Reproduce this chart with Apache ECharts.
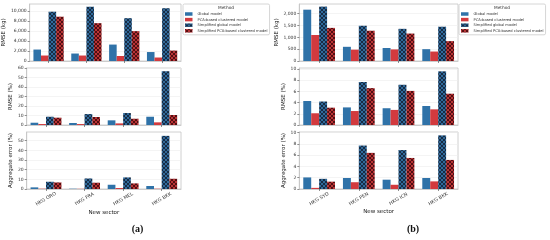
<!DOCTYPE html>
<html><head><meta charset="utf-8">
<script src="https://cdn.jsdelivr.net/npm/echarts@6.0.0/dist/echarts.min.js"></script>
<style>html,body{margin:0;padding:0;background:#fff}#c{width:550px;height:240px}</style>
</head><body><div id="c"></div>
<script>
// ---------- DATA ----------
const seriesNames = ['Global model', 'PCA-based clustered model', 'Simplified global model', 'Simplified PCA-based clustered model'];
const categoriesA = ['HKG ORO', 'HKG FRA', 'HKG MEL', 'HKG BKK'];
const categoriesB = ['HKG SYD', 'HKG PEN', 'HKG ICN', 'HKG BKK'];

// Panel (a) RMSE (kg)
const aKgGlobal  = [2300, 1500, 3300, 1800];
const aKgPca     = [1100, 1100, 1000, 700];
const aKgSGlobal = [9900, 10900, 8600, 10600];
const aKgSPca    = [8900, 7600, 6000, 2100];
// Panel (a) RMSE (%)
const aPctGlobal  = [2.4, 2.1, 4.9, 8.7];
const aPctPca     = [1.0, 1.0, 1.7, 2.8];
const aPctSGlobal = [8.7, 11.5, 12.6, 56.6];
const aPctSPca    = [7.7, 8.4, 6.6, 10.5];
// Panel (a) Aggregate error (%)
const aAggGlobal  = [1.7, 0.3, 4.4, 3.1];
const aAggPca     = [0.3, 0.2, 1.0, 0.3];
const aAggSGlobal = [7.5, 10.9, 12.0, 55.0];
const aAggSPca    = [6.8, 6.5, 5.8, 10.6];

// Panel (b) RMSE (kg)
const bKgGlobal  = [2170, 600, 550, 500];
const bKgPca     = [1100, 480, 490, 400];
const bKgSGlobal = [2300, 1490, 1360, 1450];
const bKgSPca    = [1400, 1280, 1160, 840];
// Panel (b) RMSE (%)
const bPctGlobal  = [4.3, 3.15, 3.0, 3.4];
const bPctPca     = [2.1, 2.5, 2.7, 2.8];
const bPctSGlobal = [4.2, 7.7, 7.2, 9.6];
const bPctSPca    = [3.1, 6.6, 6.1, 5.6];
// Panel (b) Aggregate error (%)
const bAggGlobal  = [2.05, 1.95, 1.65, 1.95];
const bAggPca     = [0.2, 1.2, 0.75, 1.35];
const bAggSGlobal = [1.8, 7.7, 6.9, 9.5];
const bAggSPca    = [1.3, 6.4, 5.5, 5.15];

// Tick labels
const ticksAKg  = [0, 2000, 4000, 6000, 8000, 10000];
const ticksAPct = [0, 10, 20, 30, 40, 50, 60];
const ticksAAgg = [0, 10, 20, 30, 40, 50];
const ticksBKg  = [0, 500, 1000, 1500, 2000];
const ticksBPct = [0, 2, 4, 6, 8, 10];
const ticksBAgg = [0, 2, 4, 6, 8, 10];

const yNames = ['RMSE (kg)', 'RMSE (%)', 'Aggregate error (%)'];
const xName = 'New sector';
const legendTitle = 'Method';
const panelLabels = ['(a)', '(b)'];

// ---------- STYLE ----------
function hatch(base, line) {
  const c = document.createElement('canvas');
  c.width = 4; c.height = 4;
  const g = c.getContext('2d');
  g.fillStyle = base; g.fillRect(0, 0, 4, 4);
  g.fillStyle = line;
  for (let i = 0; i < 4; i++) { g.fillRect(i, i, 1, 1); g.fillRect(3 - i, i, 1, 1); }
  return { image: c, repeat: 'repeat' };
}
const colors = ['#2f72a8', '#d23a3e', hatch('#30699a', '#162c45'), hatch('#b83336', '#520f11')];
const FONT = 'DejaVu Sans';

const panels = [
  { left: 26.7, width: 154.3, cats: categoriesA,
    rows: [
      { data: [aKgGlobal, aKgPca, aKgSGlobal, aKgSPca], ticks: ticksAKg, max: 11450, gap: 17.5 },
      { data: [aPctGlobal, aPctPca, aPctSGlobal, aPctSPca], ticks: ticksAPct, max: 60, gap: 9.5 },
      { data: [aAggGlobal, aAggPca, aAggSGlobal, aAggSPca], ticks: ticksAAgg, max: 59, gap: 9 }
    ] },
  { left: 299.3, width: 158.7, cats: categoriesB,
    rows: [
      { data: [bKgGlobal, bKgPca, bKgSGlobal, bKgSPca], ticks: ticksBKg, max: 2410, gap: 11.5 },
      { data: [bPctGlobal, bPctPca, bPctSGlobal, bPctSPca], ticks: ticksBPct, max: 10.2, gap: 7.5 },
      { data: [bAggGlobal, bAggPca, bAggSGlobal, bAggSPca], ticks: ticksBAgg, max: 10.1, gap: 6.5 }
    ] }
];
const rowTops = [4, 68, 132];
const rowH = 57;

const grid = [], xAxis = [], yAxis = [], series = [];
let gi = 0;
panels.forEach((p) => {
  p.rows.forEach((r, ri) => {
    grid.push({ left: p.left, top: rowTops[ri], width: p.width, height: rowH, show: true,
      borderColor: '#c4c4c4', borderWidth: 0.8, containLabel: false });
    const bottom = ri === 2;
    xAxis.push({ type: 'category', gridIndex: gi, data: p.cats,
      axisLine: { show: true, lineStyle: { color: '#c4c4c4', width: 0.8 } },
      axisTick: { show: true, alignWithLabel: true, length: 2, lineStyle: { color: '#444', width: 0.6 } },
      axisLabel: { show: bottom, rotate: 30, align: 'center', verticalAlign: 'middle', margin: 10,
        fontSize: 4.8, color: '#333', fontFamily: FONT },
      name: bottom ? xName : '', nameLocation: 'middle', nameGap: 19,
      nameTextStyle: { fontSize: 5.5, color: '#222', fontFamily: FONT } });
    yAxis.push({ type: 'value', gridIndex: gi, min: 0, max: r.max,
      axisLine: { show: true, lineStyle: { color: '#c4c4c4', width: 0.8 } },
      axisTick: { show: true, length: 2, customValues: r.ticks, lineStyle: { color: '#444', width: 0.6 } },
      axisLabel: { customValues: r.ticks, fontSize: 4.5, color: '#333', margin: 3, fontFamily: FONT,
        formatter: (v) => v.toLocaleString('en-US') },
      splitLine: { show: true, lineStyle: { color: '#ececec', width: 0.6 } },
      name: yNames[ri], nameLocation: 'middle', nameGap: r.gap,
      nameTextStyle: { fontSize: 5.5, color: '#222', fontFamily: FONT } });
    r.data.forEach((vals, si) => {
      series.push({ type: 'bar', name: seriesNames[si], xAxisIndex: gi, yAxisIndex: gi,
        data: vals, barWidth: '20%', barGap: '0%', itemStyle: { color: colors[si] },
        animation: false, silent: true });
    });
    gi++;
  });
});

const legendCommon = { orient: 'vertical', top: 4, padding: [8, 2, 2, 2], borderColor: '#cccccc',
  borderWidth: 0.8, borderRadius: 1.5, itemWidth: 7.5, itemHeight: 3.5, itemGap: 1.6, icon: 'rect',
  selectedMode: false, data: seriesNames,
  textStyle: { fontSize: 3.7, lineHeight: 4, color: '#333', fontFamily: FONT } };

const chart = echarts.init(document.getElementById('c'), null, { renderer: 'canvas' });
chart.setOption({
  animation: false,
  backgroundColor: '#fff',
  grid, xAxis, yAxis, series,
  legend: [Object.assign({ left: 183 }, legendCommon), Object.assign({ left: 459 }, legendCommon)],
  graphic: [
    { type: 'text', x: 226, y: 8, style: { text: legendTitle, fontSize: 4.3, fill: '#333', fontFamily: FONT,
      align: 'center', verticalAlign: 'middle' } },
    { type: 'text', x: 502, y: 8, style: { text: legendTitle, fontSize: 4.3, fill: '#333', fontFamily: FONT,
      align: 'center', verticalAlign: 'middle' } },
    { type: 'text', x: 137.5, y: 229, style: { text: panelLabels[0], fontSize: 10, fontWeight: 'bold', fill: '#111',
      fontFamily: 'Liberation Serif', align: 'center', verticalAlign: 'middle' } },
    { type: 'text', x: 413, y: 229, style: { text: panelLabels[1], fontSize: 10, fontWeight: 'bold', fill: '#111',
      fontFamily: 'Liberation Serif', align: 'center', verticalAlign: 'middle' } }
  ]
});
</script></body></html>
